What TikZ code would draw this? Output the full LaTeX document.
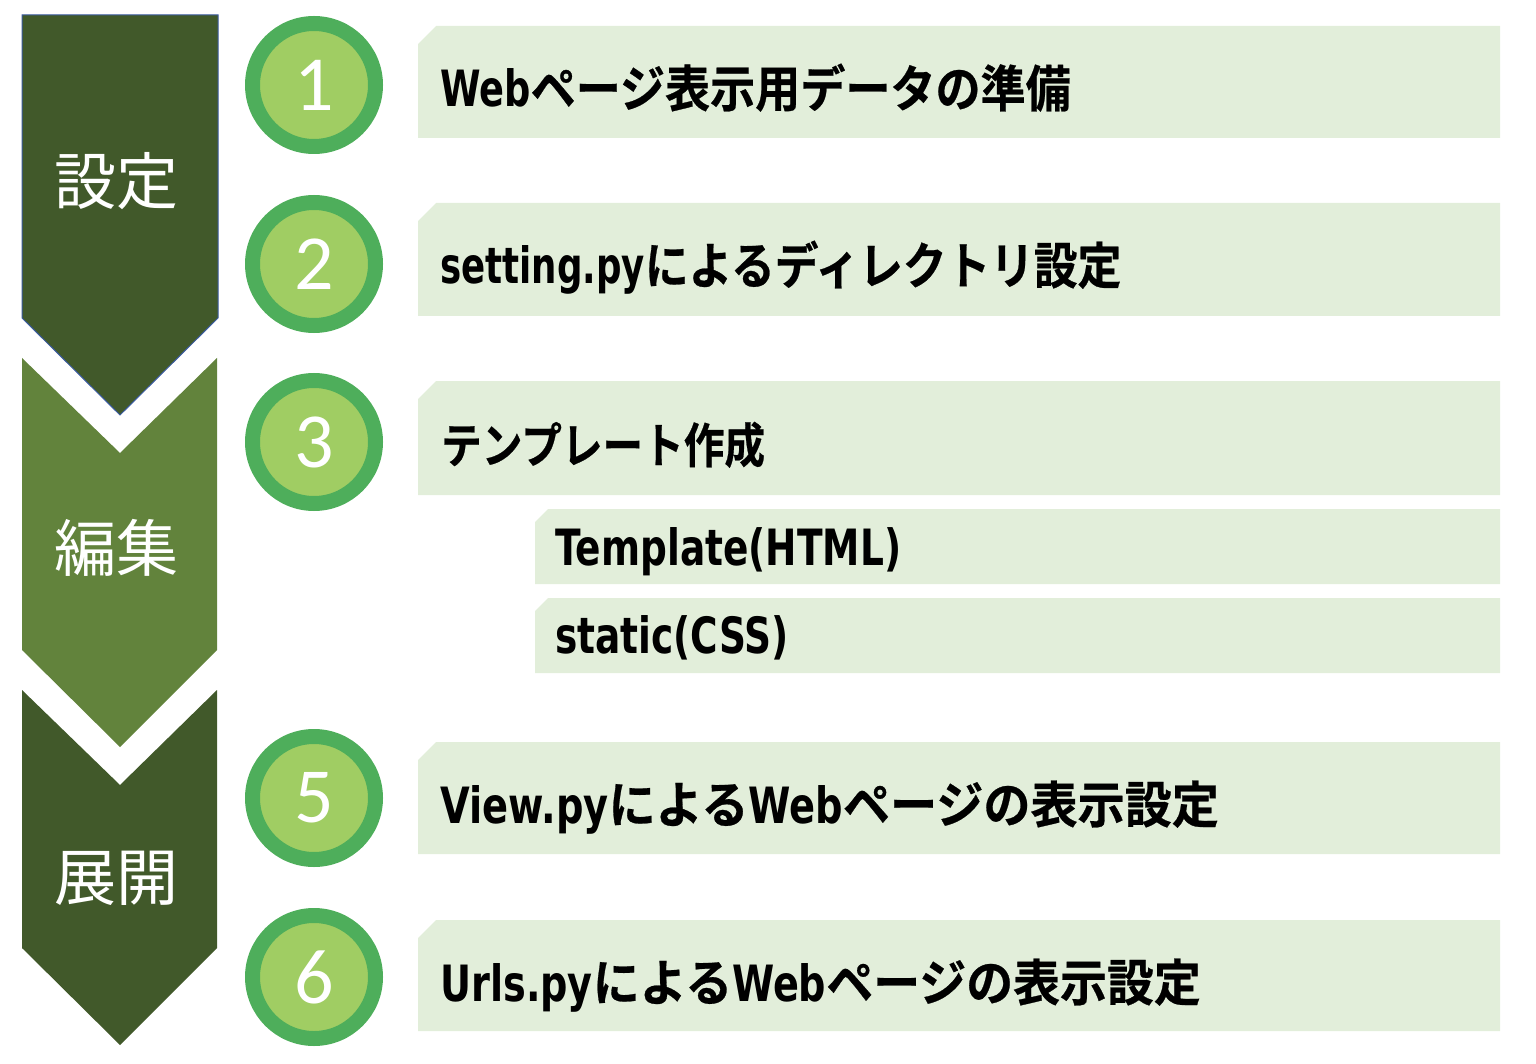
\documentclass[tikz,border=0pt]{standalone}
\usepackage{fontspec}
\newfontfamily\jpbold{Noto Sans CJK JP Bold}[FakeStretch=0.92, FakeBold=0.5]
\newfontfamily\latb{DejaVu Sans Bold}[FakeStretch=0.75]
\newfontfamily\jpreg{Noto Sans CJK JP}
\newfontfamily\numfont{Carlito}
\newcommand{\La}[1]{{\latb #1}}
\definecolor{chevdark}{HTML}{41592A}
\definecolor{chevmid}{HTML}{62833C}
\definecolor{ringout}{HTML}{4EAE5B}
\definecolor{ringin}{HTML}{A0CD63}
\definecolor{boxfill}{HTML}{E2EEDA}
\definecolor{edgeblue}{HTML}{3A5BA0}
\tikzset{
  phaselabel/.style={inner sep=0, text=white, font=\jpreg\fontsize{62}{62}\selectfont},
  numcircle/.style={circle, inner sep=0, minimum size=123pt, line width=15pt, draw=ringout, fill=ringin, text=white, font=\numfont\fontsize{78}{78}\selectfont},
  steptext/.style={anchor=base west, inner sep=0, text=black, font=\jpbold\fontsize{50}{52}\selectfont},
  smalltext/.style={anchor=base west, inner sep=0, text=black, font=\jpbold\fontsize{48}{50}\selectfont},
  subtext/.style={anchor=base west, inner sep=0, text=black, font=\latb\fontsize{50}{52}\selectfont},
}
\begin{document}
\begin{tikzpicture}[x=1pt,y=-1pt]
\useasboundingbox (0,0) rectangle (1536,1064);
% chevrons
\fill[chevdark] (22,15) -- (218,15) -- (218,318) -- (120,415) -- (22,318) -- cycle;
\draw[edgeblue, line width=1pt] (22,318) -- (22,15) -- (218,15) -- (218,318) -- (120,415) -- cycle;
\fill[chevmid] (22,358) -- (120,453) -- (217,358) -- (217,650) -- (120,747) -- (22,650) -- cycle;
\fill[chevdark] (22,690) -- (120,785) -- (217,690) -- (217,948) -- (120,1045) -- (22,948) -- cycle;
\node[phaselabel] (p1) at (116,181) {設定};
\node[phaselabel] (p2) at (116,548) {編集};
\node[phaselabel] (p3) at (116,878) {展開};
% boxes
\fill[boxfill] (418,44) -- (436,26) -- (1500,26) -- (1500,138) -- (418,138) -- cycle;
\fill[boxfill] (418,221) -- (436,203) -- (1500,203) -- (1500,316) -- (418,316) -- cycle;
\fill[boxfill] (418,399) -- (436,381) -- (1500,381) -- (1500,495) -- (418,495) -- cycle;
\fill[boxfill] (535,522) -- (548,509) -- (1500,509) -- (1500,584) -- (535,584) -- cycle;
\fill[boxfill] (535,611) -- (548,598) -- (1500,598) -- (1500,673) -- (535,673) -- cycle;
\fill[boxfill] (418,760) -- (436,742) -- (1500,742) -- (1500,854) -- (418,854) -- cycle;
\fill[boxfill] (418,938) -- (436,920) -- (1500,920) -- (1500,1031) -- (418,1031) -- cycle;
% circles
\node[numcircle] (n1) at (314,85) {1};
\node[numcircle] (n2) at (314,264) {2};
\node[numcircle] (n3) at (314,442) {3};
\node[numcircle] (n5) at (314,798) {5};
\node[numcircle] (n6) at (314,977) {6};
% texts
\node[steptext] (t1) at (440,107) {\scalebox{0.98}[1]{\La{Web}ページ表示用データの準備}};
\node[steptext] (t2) at (440,284) {\scalebox{0.95}[1]{\La{setting.py}によるディレクトリ設定}};
\node[smalltext] (t3) at (441,463) {\scalebox{0.92}[1]{テンプレート作成}};
\node[subtext] (t3a) at (555,565) {Template(HTML)};
\node[subtext] (t3b) at (555,653) {static(CSS)};
\node[steptext] (t5) at (440,823) {\scalebox{1.024}[1]{\La{View.py}による\La{Web}ページの表示設定}};
\node[steptext] (t6) at (440,1001) {\scalebox{1.02}[1]{\La{Urls.py}による\La{Web}ページの表示設定}};
\end{tikzpicture}
\end{document}
